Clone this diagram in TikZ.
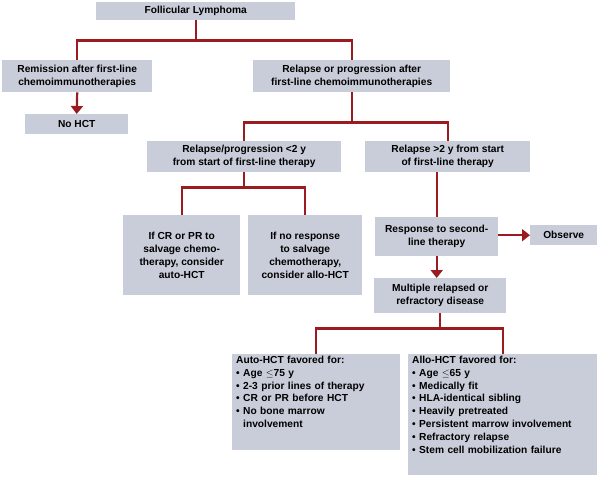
\documentclass[tikz,border=0pt]{standalone}
\usepackage{fontspec}
\setmainfont{Liberation Sans}
\usetikzlibrary{arrows.meta}
\definecolor{bx}{HTML}{C9CDD9}
\definecolor{ln}{HTML}{9B1C20}
\begin{document}
\begin{tikzpicture}[x=1pt,y=-1pt,
  b/.style={fill=bx,draw=none,font=\bfseries\fontsize{10.2}{12.8}\selectfont,align=center,inner sep=0pt},
  c/.style={draw=ln,line width=2.2pt},
  a/.style={c,-{Triangle[length=8pt,width=12pt]}}]
\useasboundingbox (0,0) rectangle (600,477);
\newcommand{\bx}[6]{\node[b,minimum width=#4-#2,minimum height=#5-#3,anchor=north west] (#1) at (#2,#3) {#6};}
\bx{fl}{96}{2}{295}{20}{Follicular Lymphoma}
\bx{rem}{2}{60}{152}{92}{Remission after first-line\\chemoimmunotherapies}
\bx{no}{25}{114}{128}{134}{No HCT}
\bx{rel}{253}{60}{450}{92}{Relapse or progression after\\first-line chemoimmunotherapies}
\bx{lt}{147}{141}{341}{172}{Relapse/progression <2 y\\from start of first-line therapy}
\bx{gt}{365}{141}{530}{172}{Relapse >2 y from start\\of first-line therapy}
\bx{cr}{123}{215}{240}{295}{If CR or PR to\\salvage chemo-\\therapy, consider\\auto-HCT}
\bx{nr}{248}{215}{362}{295}{If no response\\to salvage\\chemotherapy,\\consider allo-HCT}
\bx{resp}{375}{217}{498}{256}{Response to second-\\line therapy}
\bx{obs}{530}{225}{597}{245}{Observe}
\bx{mult}{374}{278}{506}{313}{Multiple relapsed or\\refractory disease}
\node[b,align=left,anchor=north west,minimum width=168pt,minimum height=96pt,text width=160pt] (auto) at (232,354) {\parbox[t][92pt][t]{160pt}{\raggedright Auto-HCT favored for:\\
\textbullet\ Age $\le$75 y\\
\textbullet\ 2-3 prior lines of therapy\\
\textbullet\ CR or PR before HCT\\
\textbullet\ No bone marrow\\\hspace*{7pt}involvement}};
\node[b,align=left,anchor=north west,minimum width=189pt,minimum height=121pt,text width=181pt] (allo) at (408,354) {\parbox[t][117pt][t]{181pt}{\raggedright Allo-HCT favored for:\\
\textbullet\ Age $\le$65 y\\
\textbullet\ Medically fit\\
\textbullet\ HLA-identical sibling\\
\textbullet\ Heavily pretreated\\
\textbullet\ Persistent marrow involvement\\
\textbullet\ Refractory relapse\\
\textbullet\ Stem cell mobilization failure}};
\draw[c] (fl.south) -- ++(0,20) coordinate (j1);
\draw[c] (rem.north) |- (j1) -| (rel.north);
\draw[a] (rem.south) -- (no.north);
\draw[c] (rel.south) -- ++(0,30) coordinate (j2);
\draw[c] (lt.north) |- (j2) -| (gt.north);
\draw[c] (lt.south) -- ++(0,15) coordinate (j3);
\draw[c] (cr.north) |- (j3) -| (nr.north);
\draw[c] (resp.north |- gt.south) -- (resp.north);
\draw[a] (resp.east |- obs.west) -- (obs.west);
\draw[a] (resp.south) -- (resp.south |- mult.north);
\draw[c] (mult.south) -- ++(0,15) coordinate (j4);
\draw[c] (auto.north) |- (j4) -| (allo.north);
\end{tikzpicture}
\end{document}
